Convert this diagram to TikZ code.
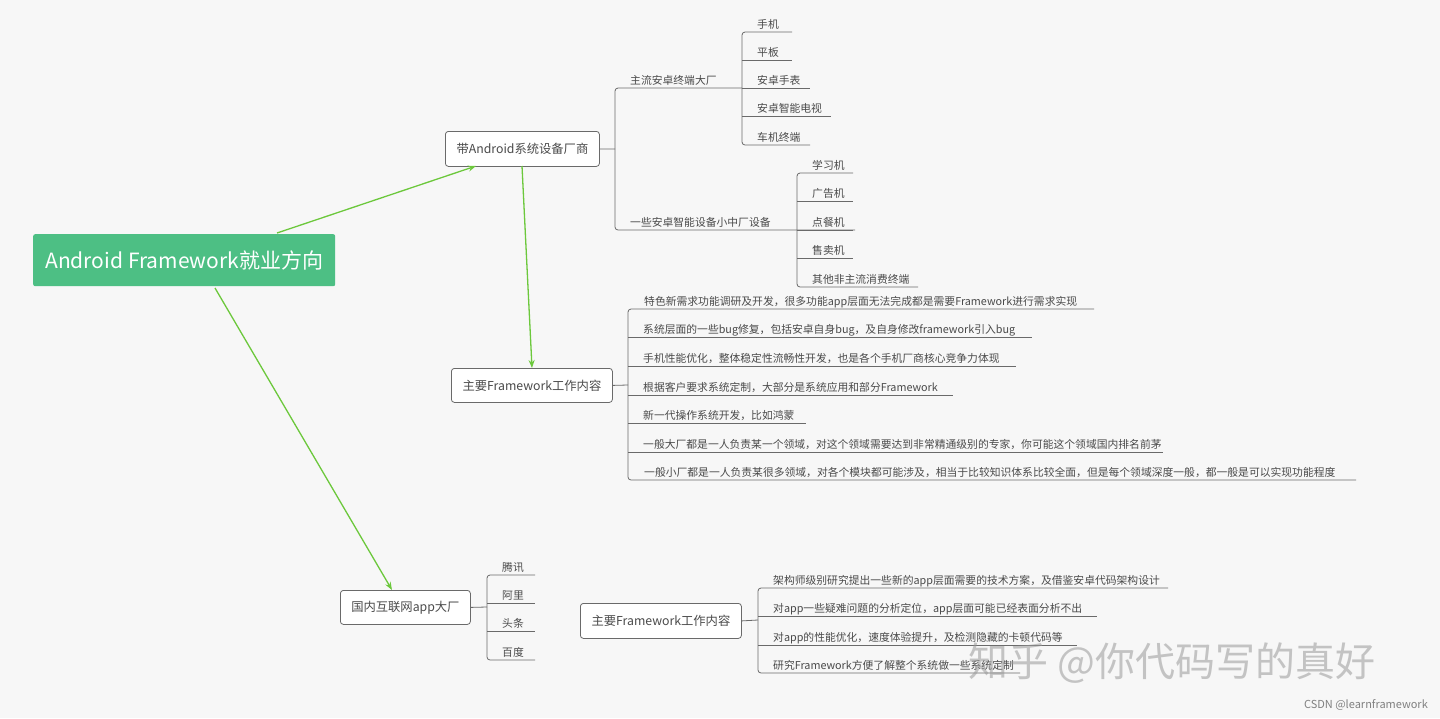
\documentclass[tikz,border=0pt]{standalone}
\usepackage{fontspec}
\setmainfont{Noto Sans CJK SC}
\usetikzlibrary{arrows.meta}
\definecolor{bg}{HTML}{F7F7F7}
\definecolor{tx}{HTML}{4A4A4A}
\definecolor{ln}{HTML}{6A6A6A}
\definecolor{rootc}{HTML}{4DBF84}
\definecolor{arr}{HTML}{6CC83C}
\tikzset{
  box/.style={draw=ln, line width=0.8pt, rounded corners=3pt, fill=white, text=tx, font=\fontsize{12.3}{14}\selectfont, inner sep=0pt, anchor=north west},
  lbl/.style={text=tx, font=\fontsize{10.8}{12}\selectfont, inner sep=0pt, anchor=base west},
  br/.style={draw=ln, line width=0.8pt, rounded corners=3pt},
  ul/.style={draw=ln, line width=0.8pt},
  garrow/.style={draw=arr, line width=1.3pt, -{Stealth[length=8pt,width=6pt]}}
}
\newcommand{\itm}[5]{% name, x, y(line), endx, text
  \node[lbl] (#1) at (#2+15,#3-4) {#5};
  \draw[ul] (#2,#3) -- (#4,#3);
}
\begin{document}
\begin{tikzpicture}[x=1pt,y=-1pt]
\fill[bg] (0,0) rectangle (1440,718);
\useasboundingbox (0,0) rectangle (1440,718);
% root
\node[fill=rootc, rounded corners=2pt, text=white, font=\fontsize{21}{24}\selectfont, minimum width=302pt, minimum height=52pt, inner sep=0pt, anchor=north west] (root) at (33,234) {Android Framework就业方向};
\node[box, minimum width=154pt, minimum height=35pt] (b1) at (445,131) {带Android系统设备厂商};
\node[box, minimum width=161pt, minimum height=34pt] (b2) at (451,368) {主要Framework工作内容};
\node[box, minimum width=130pt, minimum height=34pt] (b3) at (340,590) {国内互联网app大厂};
\node[box, minimum width=161pt, minimum height=35pt] (b4) at (580,603) {主要Framework工作内容};
% green arrows
\coordinate (r1) at (277,233); \coordinate (t1) at (476,166);
\coordinate (s2) at (522,166); \coordinate (t2) at (532,368);
\coordinate (r3) at (215,288); \coordinate (t3) at (392,590);
\draw[garrow] (r1) -- (t1);
\draw[garrow] (s2) -- (t2);
\draw[garrow] (r3) -- (t3);
% box1 branches
\draw[ul] (b1.east) -- (615,149);
\draw[br] (742,88) -- (615,88) -- (615,230) -- (855,230);
\node[lbl] (m1) at (630,84) {主流安卓终端大厂};
\node[lbl] (m2) at (630,226) {一些安卓智能设备小中厂设备};
\draw[br] (792,32) -- (742,32) -- (742,145) -- (810,145);
\node[lbl] at (757,28) {手机};
\itm{a2}{742}{60}{792}{平板}
\itm{a3}{742}{88}{810}{安卓手表}
\itm{a4}{742}{116}{831}{安卓智能电视}
\node[lbl] at (757,141) {车机终端};
\draw[br] (853,173) -- (797,173) -- (797,287) -- (918,287);
\node[lbl] at (812,169) {学习机};
\itm{c2}{797}{201}{853}{广告机}
\itm{c3}{797}{230}{853}{点餐机}
\itm{c4}{797}{258}{853}{售卖机}
\node[lbl] at (812,283) {其他非主流消费终端};
% box2
\draw[ul] (b2.east) -- (628,385);
\draw[br] (1094,309) -- (628,309) -- (628,480) -- (1356,480);
\node[lbl] at (644,305) {特色新需求功能调研及开发，很多功能app层面无法完成都是需要Framework进行需求实现};
\itm{d2}{628}{337}{1032}{系统层面的一些bug修复，包括安卓自身bug，及自身修改framework引入bug}
\itm{d3}{628}{366}{1016}{手机性能优化，整体稳定性流畅性开发，也是各个手机厂商核心竞争力体现}
\itm{d4}{628}{395}{953}{根据客户要求系统定制，大部分是系统应用和部分Framework}
\itm{d5}{628}{423}{806}{新一代操作系统开发，比如鸿蒙}
\itm{d6}{628}{452}{1163}{一般大厂都是一人负责某一个领域，对这个领域需要达到非常精通级别的专家，你可能这个领域国内排名前茅}
\node[lbl] at (644,476) {一般小厂都是一人负责某很多领域，对各个模块都可能涉及，相当于比较知识体系比较全面，但是每个领域深度一般，都一般是可以实现功能程度};
% box3
\draw[ul] (b3.east) -- (487,607);
\draw[br] (535,575) -- (487,575) -- (487,660) -- (535,660);
\node[lbl] at (502,571) {腾讯};
\itm{e2}{487}{603}{535}{阿里}
\itm{e3}{487}{631}{535}{头条}
\node[lbl] at (502,656) {百度};
% box4
\draw[ul] (b4.east) -- (758,620);
\draw[br] (1168,588) -- (758,588) -- (758,673) -- (1020,673);
\node[lbl] at (773,584) {架构师级别研究提出一些新的app层面需要的技术方案，及借鉴安卓代码架构设计};
\itm{f2}{758}{616}{1097}{对app一些疑难问题的分析定位，app层面可能已经表面分析不出}
\itm{f3}{758}{645}{1077}{对app的性能优化，速度体验提升，及检测隐藏的卡顿代码等}
\node[lbl] at (773,669) {研究Framework方便了解整个系统做一些系统定制};
% watermarks
\node[text=gray!80, font=\fontsize{40}{44}\selectfont, inner sep=0pt, anchor=base west, opacity=0.55] (wm) at (968,676) {知乎 @你代码写的真好};
\node[text=gray, font=\fontsize{11}{13}\selectfont, inner sep=0pt, anchor=base east] (csdn) at (1428,708) {CSDN @learnframework};
\end{tikzpicture}
\end{document}
